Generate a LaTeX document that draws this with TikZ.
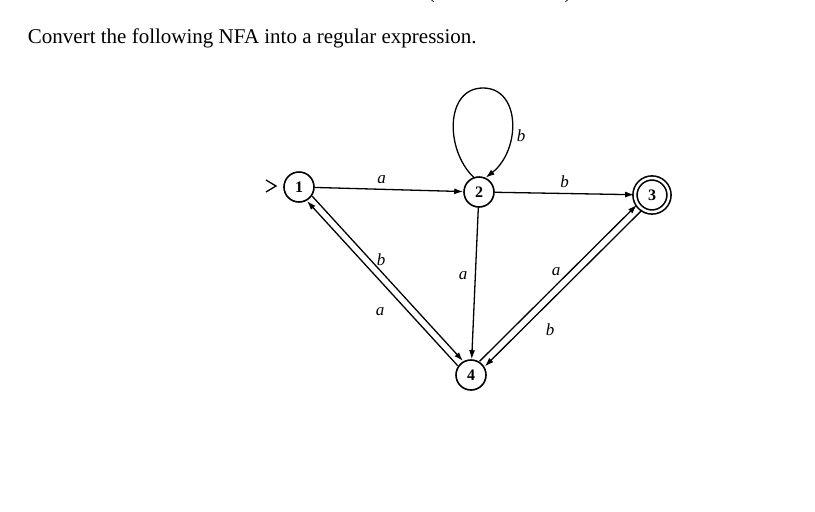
\documentclass[tikz,border=0pt]{standalone}
\usepackage{fontspec}
\setmainfont{Liberation Serif}
\usetikzlibrary{arrows.meta}
\begin{document}
\begin{tikzpicture}[x=1pt,y=-1pt,line width=1.3pt,
  st/.style={circle,draw,line width=1.6pt,minimum size=30pt,inner sep=0pt,font=\fontsize{16}{16}\selectfont\bfseries},
  fin/.style={st,double,double distance=2.5pt,minimum size=34pt},
  tr/.style={-{Latex[length=9pt,width=6pt]}},
  lab/.style={font=\fontsize{17}{17}\selectfont\itshape}]
\useasboundingbox (0,0) rectangle (815,512);
\node[font=\fontsize{20}{20}\selectfont] (ttl) at (425,-6) {P R O B L E M\ \ 1 (2 0\ \ P O I N T S)};
\node[anchor=west,font=\fontsize{21}{21}\selectfont] (q) at (24,38) {Convert the following NFA into a regular expression.};
\node[st] (n1) at (299,187) {1};
\node[st] (n2) at (479,192) {2};
\node[fin] (n3) at (652,195) {3};
\node[st] (n4) at (471,375) {4};
\coordinate (s) at (266,186);
\draw (s) ++(0,-6) -- ++(10,6) -- ++(-10,6);
\draw[tr] (n1) -- node[lab,above=2pt,pos=0.45]{a} (n2);
\draw[tr] (n2) -- node[lab,above=2pt]{b} (n3);
\draw[tr] (n2) -- node[lab,left=4pt,pos=0.45]{a} (n4);
\draw[tr] (n2.110) .. controls (445,150) and (445,88) .. (483,88) .. controls (521,88) and (521,150) .. (n2.65);
\node[lab] (lb) at (521,136) {b};
\draw[tr,transform canvas={shift={(2.6,-2.4)}}] (n1) -- (n4);
\draw[tr,transform canvas={shift={(-2.6,2.4)}}] (n4) -- (n1);
\node[lab] (l14) at (381,260) {b};
\node[lab] (l41) at (380,312) {a};
\draw[tr,transform canvas={shift={(-2.6,-2.6)}}] (n4) -- (n3);
\draw[tr,transform canvas={shift={(2.6,2.6)}}] (n3) -- (n4);
\node[lab] (l43) at (556,272) {a};
\node[lab] (l34) at (550,330) {b};
\end{tikzpicture}
\end{document}
